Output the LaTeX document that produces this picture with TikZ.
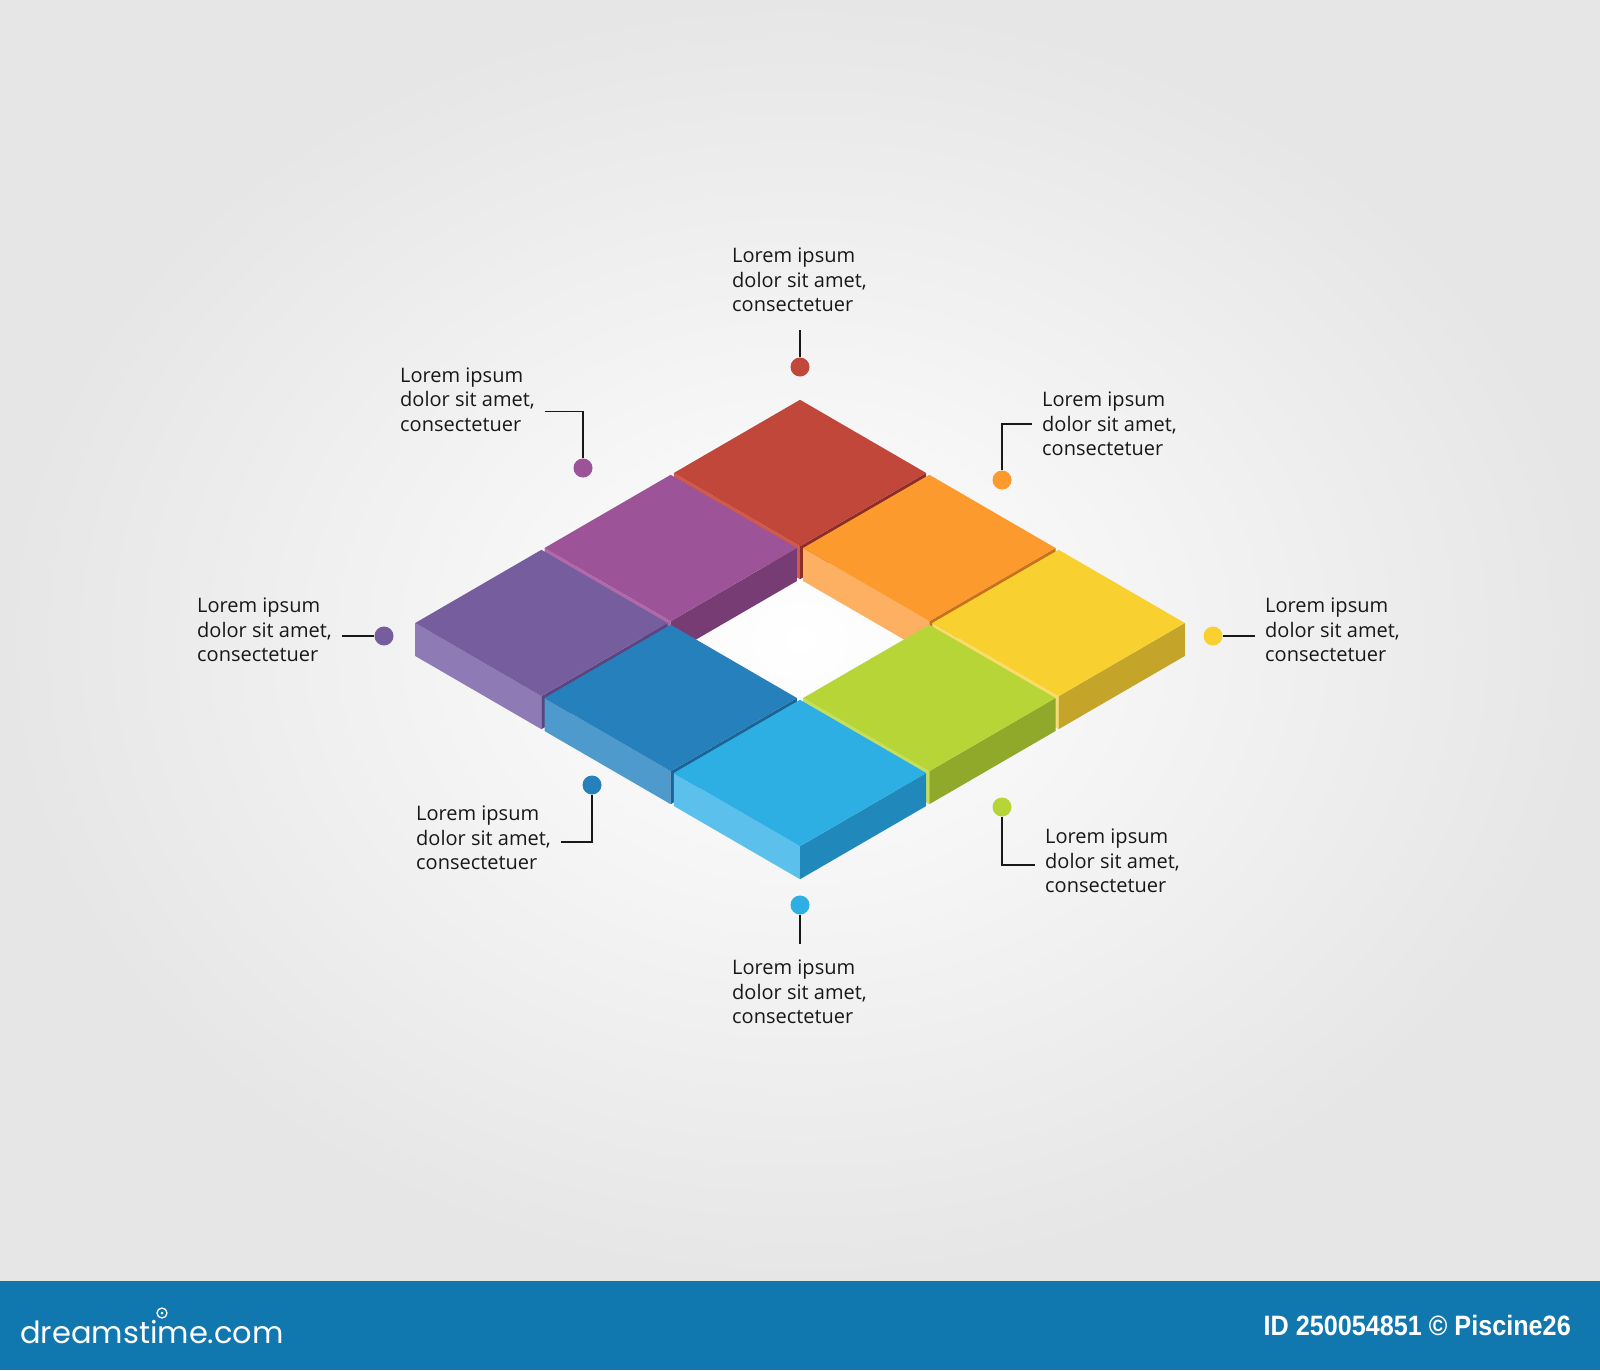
\documentclass[tikz,border=0pt]{standalone}
\usepackage{fontspec}
\newfontfamily\lblfont{Open Sans}
\newfontfamily\brandfont{Poppins}
\newfontfamily\idfont[FakeStretch=0.9]{Liberation Sans}
\usetikzlibrary{calc}

\definecolor{bggray}{RGB}{230, 230, 230}
\definecolor{inkgray}{RGB}{24, 24, 24}
\definecolor{barblue}{RGB}{16, 119, 175}
% tile colours: top face, front-left face, front-right face
\definecolor{topred}{RGB}{192, 71, 58}
\definecolor{lftred}{RGB}{207, 90, 74}
\definecolor{rgtred}{RGB}{140, 46, 37}
\definecolor{toporange}{RGB}{252, 154, 46}
\definecolor{lftorange}{RGB}{253, 176, 98}
\definecolor{rgtorange}{RGB}{200, 114, 27}
\definecolor{topyellow}{RGB}{248, 208, 48}
\definecolor{lftyellow}{RGB}{250, 220, 106}
\definecolor{rgtyellow}{RGB}{196, 165, 42}
\definecolor{toppurple}{RGB}{157, 83, 152}
\definecolor{lftpurple}{RGB}{176, 106, 171}
\definecolor{rgtpurple}{RGB}{119, 60, 115}
\definecolor{topviolet}{RGB}{118, 93, 158}
\definecolor{lftviolet}{RGB}{142, 123, 181}
\definecolor{rgtviolet}{RGB}{90, 69, 128}
\definecolor{topgreen}{RGB}{183, 213, 54}
\definecolor{lftgreen}{RGB}{198, 222, 96}
\definecolor{rgtgreen}{RGB}{144, 169, 43}
\definecolor{topblue}{RGB}{37, 128, 187}
\definecolor{lftblue}{RGB}{79, 154, 205}
\definecolor{rgtblue}{RGB}{27, 101, 150}
\definecolor{topcyan}{RGB}{45, 175, 228}
\definecolor{lftcyan}{RGB}{91, 192, 235}
\definecolor{rgtcyan}{RGB}{32, 136, 187}

\newcommand{\tilegap}{0.012}
\newcommand{\tilethick}{33pt}

\begin{document}
\begin{tikzpicture}[x=1pt, y=-1pt,
  lbl/.style={font=\lblfont\fontsize{20pt}{24.4pt}\selectfont, text=inkgray,
    align=left, inner xsep=10pt, inner ysep=0pt, anchor=north west},
  bead/.style={circle, inner sep=0pt, minimum size=19pt, fill=#1},
  leader/.style={draw=inkgray, line width=1.8pt}]
  \useasboundingbox (0,0) rectangle (1600,1370);

  % Background
  \shade[inner color=white, outer color=bggray] (0,0) rectangle (1600,1281);

  % Isometric tiles, back to front
  \begin{scope}[shift={(800pt,-398pt)}, x={(129.3pt,-75pt)}, y={(-129.3pt,-75pt)}]
    \foreach \i/\j/\tn in {0/0/red, 1/0/orange, 0/1/purple, 2/0/yellow,
                           0/2/violet, 2/1/green, 1/2/blue, 2/2/cyan}{
      \coordinate (tt) at (\i+\tilegap, \j+\tilegap);
      \coordinate (tr) at (\i+1-\tilegap, \j+\tilegap);
      \coordinate (tb) at (\i+1-\tilegap, \j+1-\tilegap);
      \coordinate (tl) at (\i+\tilegap, \j+1-\tilegap);
      \fill[lft\tn] (tl) -- (tb) -- ([yshift=-\tilethick]tb) -- ([yshift=-\tilethick]tl) -- cycle;
      \fill[rgt\tn] (tb) -- (tr) -- ([yshift=-\tilethick]tr) -- ([yshift=-\tilethick]tb) -- cycle;
      \fill[top\tn] (tt) -- (tr) -- (tb) -- (tl) -- cycle;
    }
  \end{scope}

  % Labels
  \node[lbl] (txtR) at (722,248) {Lorem ipsum\\dolor sit amet,\\consectetuer};
  \node[lbl] (txtP) at (390,367.5) {Lorem ipsum\\dolor sit amet,\\consectetuer};
  \node[lbl] (txtO) at (1032,392) {Lorem ipsum\\dolor sit amet,\\consectetuer};
  \node[lbl] (txtV) at (187,598) {Lorem ipsum\\dolor sit amet,\\consectetuer};
  \node[lbl] (txtY) at (1255,598) {Lorem ipsum\\dolor sit amet,\\consectetuer};
  \node[lbl] (txtB) at (406,806) {Lorem ipsum\\dolor sit amet,\\consectetuer};
  \node[lbl] (txtG) at (1035,829) {Lorem ipsum\\dolor sit amet,\\consectetuer};
  \node[lbl] (txtC) at (722,960) {Lorem ipsum\\dolor sit amet,\\consectetuer};

  % Dots
  \node[bead=topred] (dotR) at (800,367) {};
  \node[bead=toppurple] (dotP) at (583,468) {};
  \node[bead=toporange] (dotO) at (1002,480) {};
  \node[bead=topviolet] (dotV) at (384,636) {};
  \node[bead=topyellow] (dotY) at (1213,636) {};
  \node[bead=topblue] (dotB) at (592,785) {};
  \node[bead=topgreen] (dotG) at (1002,807) {};
  \node[bead=topcyan] (dotC) at (800,905) {};

  % Leaders
  \draw[leader] (dotR) -- ($(txtR.south -| dotR)+(0,18)$);
  \draw[leader] (dotP) |- ($(txtP.east)+(0,12)$);
  \draw[leader] (dotO) |- (txtO.west);
  \draw[leader] (txtV.east |- dotV) -- (dotV);
  \draw[leader] (dotY) -- (txtY.west |- dotY);
  \draw[leader] (dotB) |- ($(txtB.east)+(0,4)$);
  \draw[leader] (dotG) |- ($(txtG.west)+(0,4)$);
  \draw[leader] (dotC) -- ($(txtC.north -| dotC)+(0,-16)$);

  % Bottom bar
  \fill[barblue] (0,1281) rectangle (1600,1370);
  \node[font=\brandfont\fontsize{30.5pt}{30.5pt}\selectfont, text=white,
    anchor=base west, inner sep=0pt] (brand) at (20,1343) {dreamstime.com};
  \draw[white, line width=1.3pt] (162,1313) circle (5pt);
  \fill[white] (162,1313) circle (1.5pt);
  \node[font=\idfont\bfseries\fontsize{28pt}{28pt}\selectfont, text=white,
    anchor=east, inner sep=0pt] (credit) at (1571,1325) {ID 250054851 © Piscine26};
\end{tikzpicture}
\end{document}
